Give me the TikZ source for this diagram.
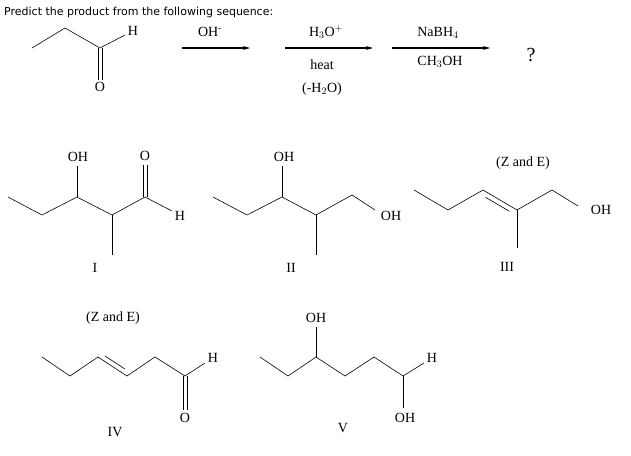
\documentclass[tikz,border=0pt]{standalone}
\usepackage{fontspec}
\setmainfont{Liberation Serif}
\newfontfamily\titlefont{DejaVu Sans}
\usetikzlibrary{arrows.meta}
\begin{document}
\begin{tikzpicture}[x=1pt,y=-1pt,
  bond/.style={line width=0.6pt},
  atom/.style={font=\fontsize{14}{14}\selectfont,inner sep=0pt},
  lab/.style={font=\fontsize{14}{14}\selectfont,inner sep=0pt},
  rxn/.style={line width=1.3pt,-{Stealth[length=7pt,width=4pt]}}]
\useasboundingbox (0,0) rectangle (631,455);
\node[anchor=west,font=\titlefont\fontsize{11}{12}\selectfont,inner sep=0pt] (title) at (4,12) {Predict the product from the following sequence:};
% propanal
\draw[bond] (32,48) -- (65,28) -- (100,48) -- (125,35);
\draw[bond] (98,48) -- (98,80) (102,48) -- (102,80);
\node[atom] (h0) at (133,31) {H};
\node[atom] (o0) at (100,87) {O};
% arrows
\coordinate (a1s) at (182,48); \coordinate (a1e) at (250,48);
\coordinate (a2s) at (285,48); \coordinate (a2e) at (373,48);
\coordinate (a3s) at (392,48); \coordinate (a3e) at (490,48);
\draw[rxn] (a1s) -- (a1e);
\draw[rxn] (a2s) -- (a2e);
\draw[rxn] (a3s) -- (a3e);
\node[lab] (r1) at (210,32) {OH\textsuperscript{-}};
\node[lab] (r2) at (326,32) {H$_3$O$^+$};
\node[lab] (r3) at (322,65) {heat};
\node[lab] (r4) at (322,89) {(-H$_2$O)};
\node[lab] (r5) at (438,33) {NaBH$_4$};
\node[lab] (r6) at (440,62) {CH$_3$OH};
\node[font=\fontsize{20}{20}\selectfont,inner sep=0pt] (q) at (531,55) {?};
% I
\draw[bond] (8,197) -- (42,215) -- (77,197) -- (112,215) -- (145,197) -- (172,211);
\draw[bond] (77,197) -- (77,166);
\draw[bond] (112,215) -- (112,255);
\draw[bond] (143,197) -- (143,165) (147,197) -- (147,165);
\node[atom] (ohI) at (78,157) {OH};
\node[atom] (oI) at (145,156) {O};
\node[atom] (hI) at (180,216) {H};
\node[lab] (lI) at (95,268) {I};
% II
\draw[bond] (213,197) -- (247,215) -- (282,197) -- (316,215) -- (352,195) -- (375,210);
\draw[bond] (282,197) -- (282,166);
\draw[bond] (316,215) -- (316,255);
\node[atom] (ohII1) at (284,157) {OH};
\node[atom] (ohII2) at (391,216) {OH};
\node[lab] (lII) at (291,268) {II};
% III
\draw[bond] (414,190) -- (448,210) -- (483,190) -- (517,210) -- (552,190) -- (578,206);
\draw[bond] (485.6,197.3) -- (509.4,211.3);
\draw[bond] (517,210) -- (517,248);
\node[atom] (ohIII) at (601,210) {OH};
\node[lab] (zeIII) at (523,163) {(Z and E)};
\node[lab] (lIII) at (507,267) {III};
% IV
\draw[bond] (42,357) -- (70,376) -- (98,357) -- (127,376) -- (155,357) -- (185,376) -- (205,363);
\draw[bond] (105,356) -- (125,369);
\draw[bond] (183,376) -- (183,410) (187,376) -- (187,410);
\node[atom] (hIV) at (213,358) {H};
\node[atom] (oIV) at (185,418) {O};
\node[lab] (zeIV) at (113,318) {(Z and E)};
\node[lab] (lIV) at (115,432) {IV};
% V
\draw[bond] (260,357) -- (288,376) -- (316,357) -- (345,376) -- (374,357) -- (403,376) -- (424,363);
\draw[bond] (316,357) -- (316,327);
\draw[bond] (403,376) -- (403,408);
\node[atom] (ohV1) at (316,318) {OH};
\node[atom] (ohV2) at (405,418) {OH};
\node[atom] (hV) at (432,358) {H};
\node[lab] (lV) at (343,428) {V};
\end{tikzpicture}
\end{document}
